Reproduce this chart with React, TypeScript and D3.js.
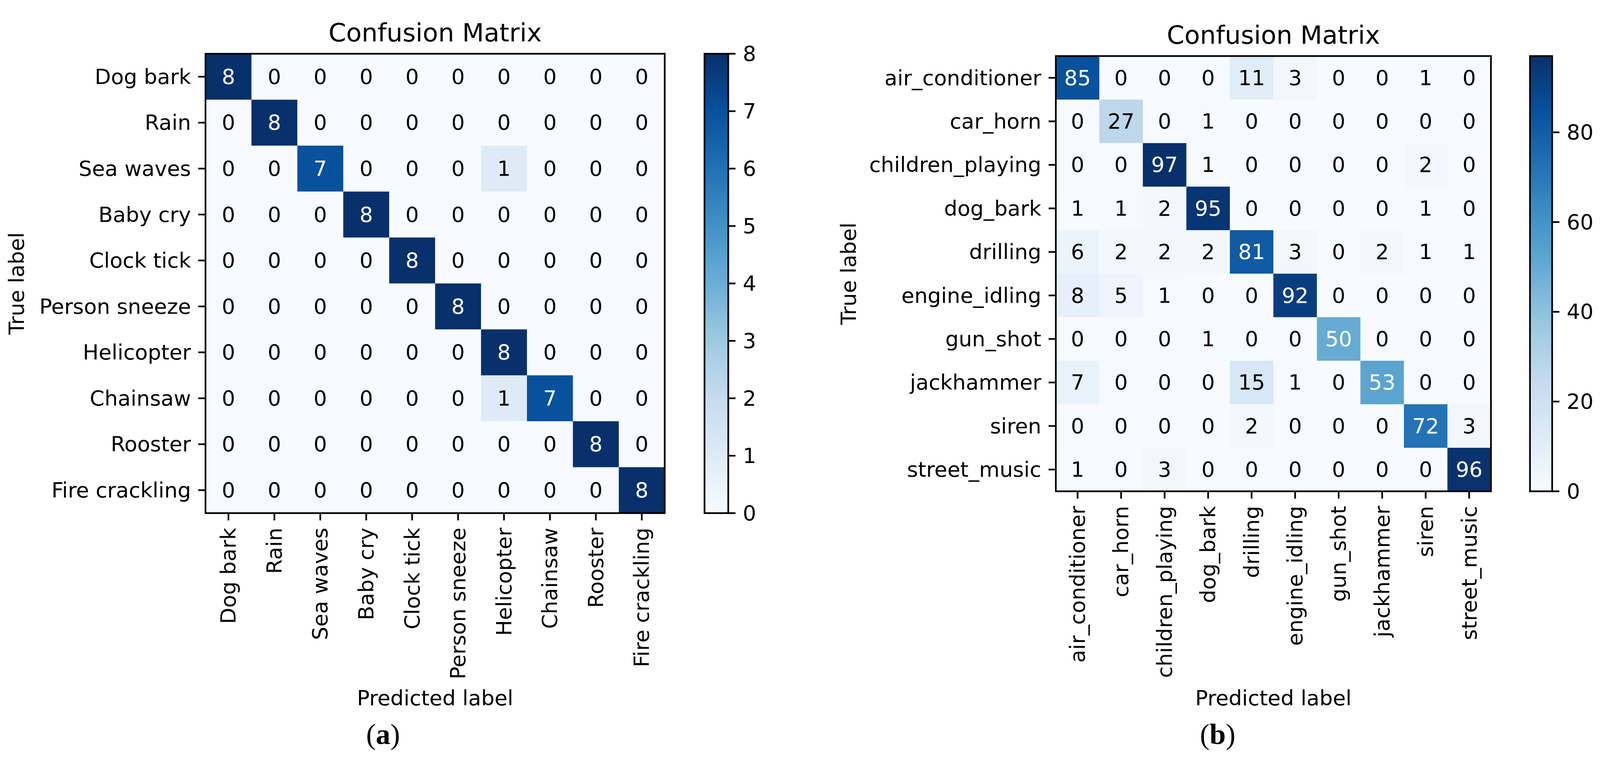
import { useEffect, useRef } from 'react';
import * as d3 from 'd3';

// (a) environmental sounds
const soundLabels = [
  'Dog bark',
  'Rain',
  'Sea waves',
  'Baby cry',
  'Clock tick',
  'Person sneeze',
  'Helicopter',
  'Chainsaw',
  'Rooster',
  'Fire crackling',
];
const soundMatrix = [
  [8, 0, 0, 0, 0, 0, 0, 0, 0, 0],
  [0, 8, 0, 0, 0, 0, 0, 0, 0, 0],
  [0, 0, 7, 0, 0, 0, 1, 0, 0, 0],
  [0, 0, 0, 8, 0, 0, 0, 0, 0, 0],
  [0, 0, 0, 0, 8, 0, 0, 0, 0, 0],
  [0, 0, 0, 0, 0, 8, 0, 0, 0, 0],
  [0, 0, 0, 0, 0, 0, 8, 0, 0, 0],
  [0, 0, 0, 0, 0, 0, 1, 7, 0, 0],
  [0, 0, 0, 0, 0, 0, 0, 0, 8, 0],
  [0, 0, 0, 0, 0, 0, 0, 0, 0, 8],
];
const soundTicks = [0, 1, 2, 3, 4, 5, 6, 7, 8];

// (b) UrbanSound8K
const urbanLabels = [
  'air_conditioner',
  'car_horn',
  'children_playing',
  'dog_bark',
  'drilling',
  'engine_idling',
  'gun_shot',
  'jackhammer',
  'siren',
  'street_music',
];
const urbanMatrix = [
  [85, 0, 0, 0, 11, 3, 0, 0, 1, 0],
  [0, 27, 0, 1, 0, 0, 0, 0, 0, 0],
  [0, 0, 97, 1, 0, 0, 0, 0, 2, 0],
  [1, 1, 2, 95, 0, 0, 0, 0, 1, 0],
  [6, 2, 2, 2, 81, 3, 0, 2, 1, 1],
  [8, 5, 1, 0, 0, 92, 0, 0, 0, 0],
  [0, 0, 0, 1, 0, 0, 50, 0, 0, 0],
  [7, 0, 0, 0, 15, 1, 0, 53, 0, 0],
  [0, 0, 0, 0, 2, 0, 0, 0, 72, 3],
  [1, 0, 3, 0, 0, 0, 0, 0, 0, 96],
];
const urbanTicks = [0, 20, 40, 60, 80];

// matplotlib "Blues"
const BLUES = ['#f7fbff', '#deebf7', '#c6dbef', '#9ecae1', '#6baed6', '#4292c6', '#2171b5', '#08519c', '#08306b'];

const W = 4181;
const H = 1968;
const FONT = '"DejaVu Sans", sans-serif';
const TICK_SIZE = 55;
const TICK_LEN = 19;
const TICK_PAD = 19;
const LINE_W = 4.4;

interface PanelProps {
  id: string;
  labels: string[];
  matrix: number[][];
  ticks: number[];
  left: number;
  top: number;
  size: number;
  cbarX: number;
  cbarW: number;
  yLabelX: number;
  xLabelY: number;
  caption: string;
  captionX: number;
}

const drawPanel = (svg: d3.Selection<SVGSVGElement, unknown, null, undefined>, p: PanelProps) => {
  const vmax = d3.max(p.matrix.flat()) || 1;
  const thresh = vmax / 2;

  const x = d3.scaleBand<string>().domain(p.labels).range([0, p.size]);
  const y = d3.scaleBand<string>().domain(p.labels).range([0, p.size]);
  const color = d3
    .scaleLinear<string>()
    .domain(BLUES.map((_, i) => (i / (BLUES.length - 1)) * vmax))
    .range(BLUES)
    .interpolate(d3.interpolateRgb);

  const g = svg.append('g').attr('transform', `translate(${p.left},${p.top})`);

  // cells
  const cells = p.matrix.flatMap((row, i) => row.map((v, j) => ({ i, j, v })));
  g.selectAll('rect.cell')
    .data(cells)
    .join('rect')
    .attr('class', 'cell')
    .attr('x', (d) => x(p.labels[d.j])!)
    .attr('y', (d) => y(p.labels[d.i])!)
    .attr('width', x.bandwidth() + 0.5)
    .attr('height', y.bandwidth() + 0.5)
    .attr('fill', (d) => color(d.v));

  g.selectAll('text.val')
    .data(cells)
    .join('text')
    .attr('class', 'val')
    .attr('x', (d) => x(p.labels[d.j])! + x.bandwidth() / 2)
    .attr('y', (d) => y(p.labels[d.i])! + y.bandwidth() / 2)
    .attr('text-anchor', 'middle')
    .attr('dominant-baseline', 'central')
    .style('font-family', FONT)
    .style('font-size', `${TICK_SIZE}px`)
    .attr('fill', (d) => (d.v > thresh ? '#ffffff' : '#000000'))
    .text((d) => d.v);

  // frame
  g.append('rect')
    .attr('width', p.size)
    .attr('height', p.size)
    .attr('fill', 'none')
    .attr('stroke', '#000')
    .attr('stroke-width', LINE_W);

  // y ticks
  const yt = g
    .selectAll('g.ytick')
    .data(p.labels)
    .join('g')
    .attr('class', 'ytick')
    .attr('transform', (d) => `translate(0,${y(d)! + y.bandwidth() / 2})`);
  yt.append('line').attr('x1', -TICK_LEN).attr('x2', 0).attr('stroke', '#000').attr('stroke-width', LINE_W);
  yt.append('text')
    .attr('x', -TICK_LEN - TICK_PAD)
    .attr('text-anchor', 'end')
    .attr('dominant-baseline', 'central')
    .style('font-family', FONT)
    .style('font-size', `${TICK_SIZE}px`)
    .text((d) => d);

  // x ticks
  const xt = g
    .selectAll('g.xtick')
    .data(p.labels)
    .join('g')
    .attr('class', 'xtick')
    .attr('transform', (d) => `translate(${x(d)! + x.bandwidth() / 2},${p.size})`);
  xt.append('line').attr('y1', 0).attr('y2', TICK_LEN).attr('stroke', '#000').attr('stroke-width', LINE_W);
  xt.append('text')
    .attr('transform', `translate(0,${TICK_LEN + TICK_PAD}) rotate(-90)`)
    .attr('text-anchor', 'end')
    .attr('dominant-baseline', 'central')
    .style('font-family', FONT)
    .style('font-size', `${TICK_SIZE}px`)
    .text((d) => d);

  // title + axis labels
  g.append('text')
    .attr('x', p.size / 2)
    .attr('y', -32)
    .attr('text-anchor', 'middle')
    .style('font-family', FONT)
    .style('font-size', '66px')
    .text('Confusion Matrix');

  svg
    .append('text')
    .attr('transform', `translate(${p.yLabelX},${p.top + p.size / 2}) rotate(-90)`)
    .attr('text-anchor', 'middle')
    .style('font-family', FONT)
    .style('font-size', `${TICK_SIZE}px`)
    .text('True label');

  svg
    .append('text')
    .attr('x', p.left + p.size / 2)
    .attr('y', p.xLabelY)
    .attr('text-anchor', 'middle')
    .style('font-family', FONT)
    .style('font-size', `${TICK_SIZE}px`)
    .text('Predicted label');

  // colorbar
  const cb = svg.append('g').attr('transform', `translate(${p.cbarX},${p.top})`);
  const grad = svg
    .append('defs')
    .append('linearGradient')
    .attr('id', `grad-${p.id}`)
    .attr('x1', 0)
    .attr('y1', 1)
    .attr('x2', 0)
    .attr('y2', 0);
  BLUES.forEach((c, i) => {
    grad
      .append('stop')
      .attr('offset', i / (BLUES.length - 1))
      .attr('stop-color', c);
  });
  cb.append('rect')
    .attr('width', p.cbarW)
    .attr('height', p.size)
    .attr('fill', `url(#grad-${p.id})`)
    .attr('stroke', '#000')
    .attr('stroke-width', LINE_W);

  const cy = d3.scaleLinear().domain([0, vmax]).range([p.size, 0]);
  const ct = cb
    .selectAll('g.ctick')
    .data(p.ticks)
    .join('g')
    .attr('class', 'ctick')
    .attr('transform', (d) => `translate(${p.cbarW},${cy(d)})`);
  ct.append('line').attr('x1', 0).attr('x2', TICK_LEN).attr('stroke', '#000').attr('stroke-width', LINE_W);
  ct.append('text')
    .attr('x', TICK_LEN + TICK_PAD)
    .attr('dominant-baseline', 'central')
    .style('font-family', FONT)
    .style('font-size', `${TICK_SIZE}px`)
    .text((d) => d);

  // caption
  const cap = svg
    .append('text')
    .attr('x', p.captionX)
    .attr('y', 1923)
    .attr('text-anchor', 'middle')
    .style('font-family', '"Liberation Serif", serif')
    .style('font-size', '76px');
  cap.append('tspan').text('(');
  cap.append('tspan').style('font-weight', 'bold').text(p.caption);
  cap.append('tspan').text(')');
};

export default function App() {
  const svgRef = useRef<SVGSVGElement>(null);

  useEffect(() => {
    document.body.style.margin = '0';
    document.body.style.overflow = 'hidden';
    if (!svgRef.current) return;
    const svg = d3.select(svgRef.current);
    svg.selectAll('*').remove();

    drawPanel(svg, {
      id: 'a',
      labels: soundLabels,
      matrix: soundMatrix,
      ticks: soundTicks,
      left: 537,
      top: 120,
      size: 1200,
      cbarX: 1841,
      cbarW: 62,
      yLabelX: 62,
      xLabelY: 1822,
      caption: 'a',
      captionX: 1001,
    });

    drawPanel(svg, {
      id: 'b',
      labels: urbanLabels,
      matrix: urbanMatrix,
      ticks: urbanTicks,
      left: 2759,
      top: 126,
      size: 1137,
      cbarX: 3998,
      cbarW: 58,
      yLabelX: 2236,
      xLabelY: 1822,
      caption: 'b',
      captionX: 3182,
    });
  }, []);

  return (
    <div style={{ position: 'fixed', left: 0, top: 0, width: '100vw', height: '100vh', background: '#fff' }}>
      <svg
        ref={svgRef}
        viewBox={`0 0 ${W} ${H}`}
        width="100%"
        height="100%"
        style={{ display: 'block', background: '#fff' }}
      />
    </div>
  );
}
